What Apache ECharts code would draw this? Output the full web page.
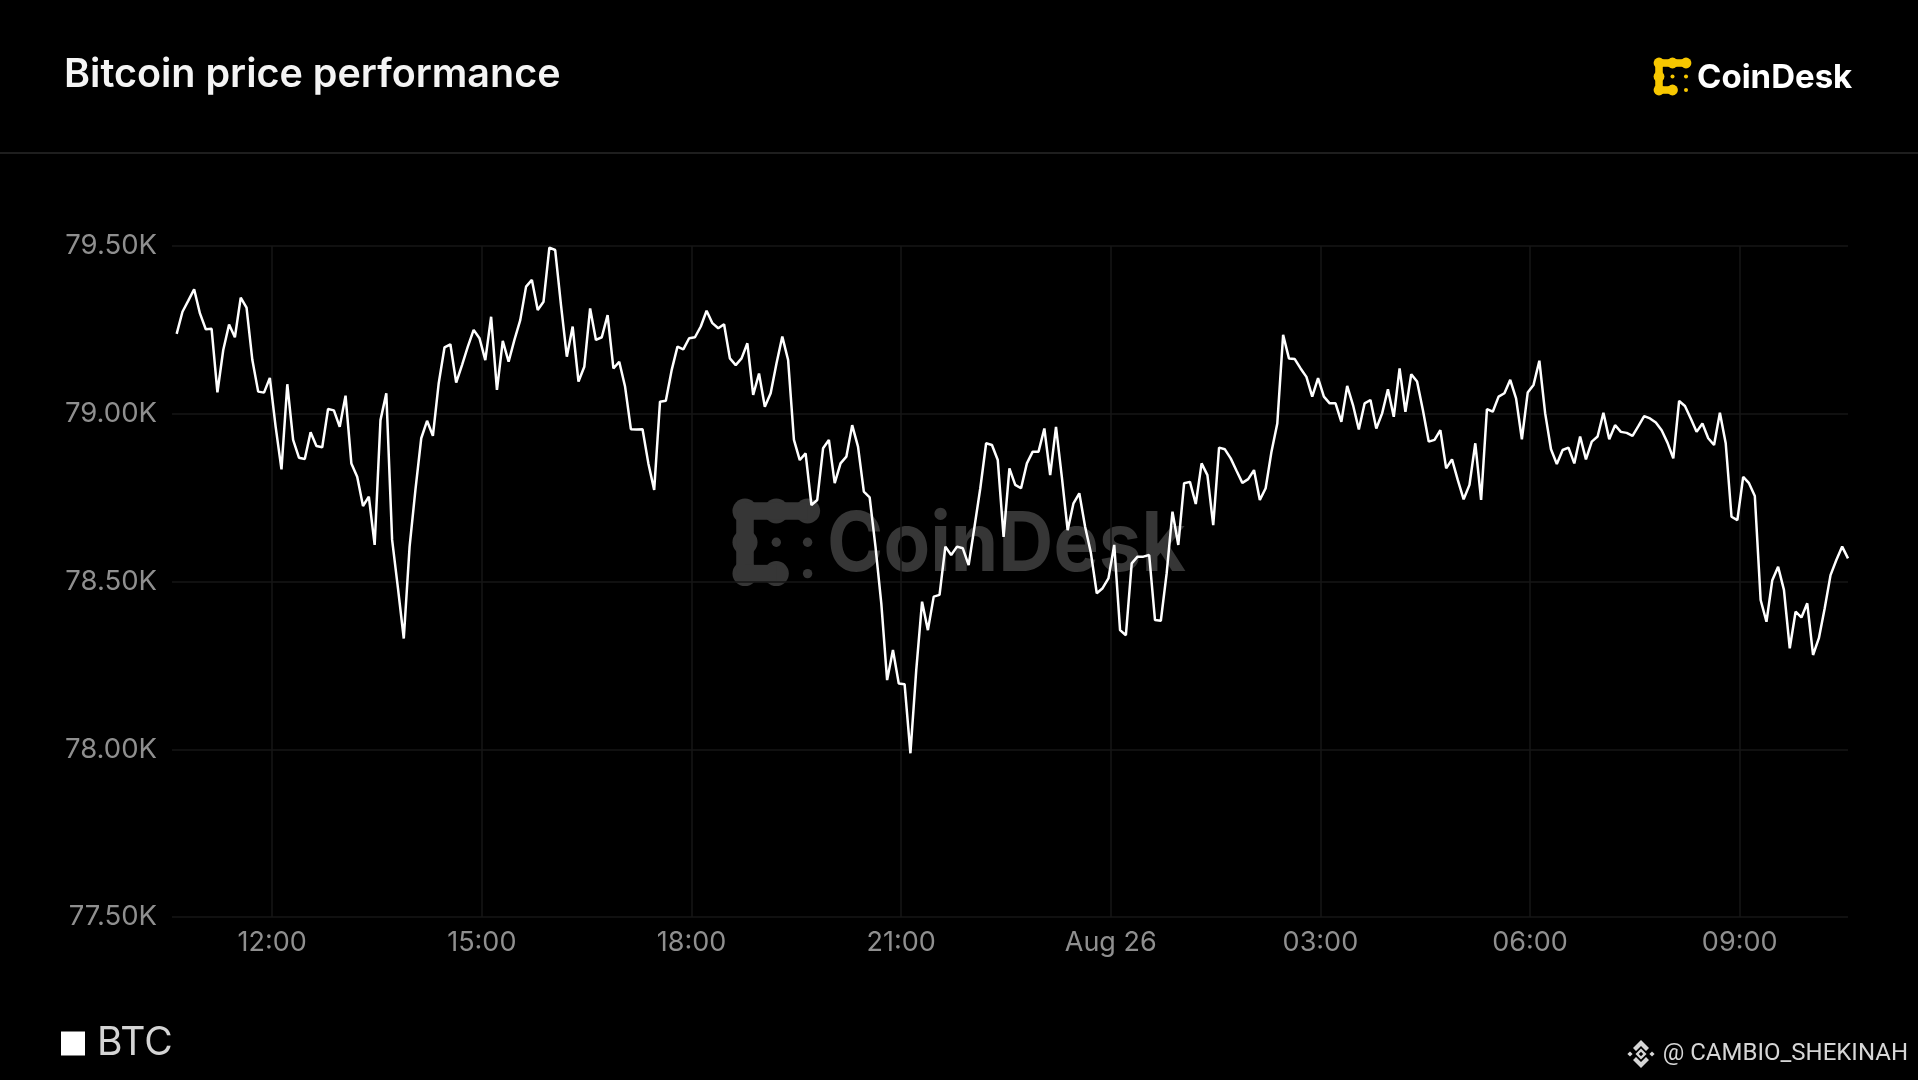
<!DOCTYPE html>
<html>
<head>
<meta charset="utf-8">
<script src="https://cdn.jsdelivr.net/npm/echarts@6/dist/echarts.min.js"></script>
<style>
  html, body { margin: 0; padding: 0; background: #000; }
  #chart { width: 1918px; height: 1080px; }
</style>
</head>
<body>
<div id="chart"></div>
<script>
// ---- Data (BTC price, 5-minute samples, Aug 25 10:38 -> Aug 26 10:33) ----
var seriesName = 'BTC';
var startTime = [2024, 7, 25, 10, 38];   // year, month(0-based), day, hour, minute
var stepMinutes = 5;
var btcPart1 = [
  79238, 79304, 79337, 79371, 79299, 79252, 79253, 79064, 79190, 79266,
  79228, 79346, 79316, 79160, 79066, 79063, 79107, 78961, 78834, 79088,
  78922, 78869, 78865, 78945, 78904, 78900, 79014, 79010, 78961, 79054,
  78852, 78812, 78725, 78753, 78609, 78981, 79061, 78624, 78480, 78330,
  78604, 78773, 78927, 78979, 78934, 79091, 79198, 79207, 79093, 79145,
  79200, 79250, 79225, 79160, 79289, 79071, 79217, 79155
];
var btcPart2 = [
  79220, 79279, 79379, 79399, 79309, 79334, 79495, 79488, 79324, 79170,
  79260, 79096, 79140, 79314, 79220, 79228, 79294, 79135, 79155, 79081,
  78954, 78953, 78954, 78852, 78773, 79036, 79039, 79130, 79200, 79192,
  79225, 79228, 79260, 79307, 79270, 79255, 79267, 79165, 79145, 79165,
  79210, 79056, 79120, 79021, 79061, 79150, 79230, 79160, 78922, 78862,
  78882, 78728, 78743, 78897, 78922, 78793, 78852
];
var btcPart3 = [
  78872, 78966, 78902, 78768, 78751, 78604, 78435, 78206, 78296, 78196,
  78194, 77988, 78236, 78440, 78355, 78455, 78460, 78604, 78579, 78604,
  78599, 78549, 78663, 78778, 78912, 78907, 78862, 78633, 78837, 78788,
  78778, 78852, 78887, 78887, 78956, 78817, 78961, 78812, 78653, 78733,
  78763, 78663, 78584, 78465, 78480, 78509, 78609, 78355, 78340, 78554,
  78574, 78574, 78579, 78385, 78383, 78524, 78708
];
var btcPart4 = [
  78609, 78793, 78797, 78731, 78852, 78817, 78668, 78899, 78894, 78867,
  78830, 78794, 78805, 78832, 78743, 78778, 78887, 78971, 79235, 79165,
  79163, 79135, 79110, 79051, 79106, 79051, 79031, 79031, 78976, 79083,
  79026, 78953, 79031, 79041, 78956, 79001, 79073, 78991, 79135, 79006,
  79118, 79096, 79011, 78917, 78922, 78951, 78837, 78864, 78802, 78745,
  78788, 78912, 78743, 79014, 79006, 79051, 79061, 79101
];
var btcPart5 = [
  79046, 78924, 79063, 79086, 79158, 79001, 78894, 78850, 78892, 78899,
  78852, 78932, 78864, 78917, 78932, 79003, 78924, 78966, 78946, 78943,
  78934, 78963, 78993, 78986, 78974, 78951, 78914, 78867, 79038, 79023,
  78986, 78946, 78971, 78927, 78907, 79003, 78912, 78693, 78683, 78812,
  78793, 78755, 78445, 78380, 78504, 78544, 78475, 78301, 78410, 78393,
  78435, 78281, 78331, 78420, 78519, 78564, 78604, 78569
];
// x tick positions, in hours counted from Aug 25 00:00
var tickHours = [12, 15, 18, 21, 24, 27, 30, 33];
var yMin = 77500, yMax = 79500, yInterval = 500;
var titleText = 'Bitcoin price performance';
var brandText = 'CoinDesk';
var creditText = '@ CAMBIO_SHEKINAH';
var midnightLabel = 'Aug 26';

// ---- Build ----
var btcValues = btcPart1.concat(btcPart2, btcPart3, btcPart4, btcPart5);
var t0 = new Date(startTime[0], startTime[1], startTime[2], startTime[3], startTime[4]).getTime();
var stepMs = stepMinutes * 60 * 1000;
var seriesData = btcValues.map(function (v, i) { return [t0 + i * stepMs, v]; });
var xMin = t0 - 4 * 60 * 1000;
var xMax = t0 + (btcValues.length - 1) * stepMs;
var tickValues = tickHours.map(function (h) {
  return new Date(startTime[0], startTime[1], startTime[2], h, 0).getTime();
});

function pad(n) { return (n < 10 ? '0' : '') + n; }

function coinIcon(x0, y0, s, color) {
  var els = [];
  var R = 0.4 * s, w = 0.56 * s, r = 0.15 * s;
  var big = [[0,0],[1,0],[2,0],[0,1],[0,2],[1,2]];
  big.forEach(function (p) {
    els.push({ type: 'circle', shape: { cx: x0 + p[0]*s, cy: y0 + p[1]*s, r: R }, style: { fill: color } });
  });
  els.push({ type: 'rect', shape: { x: x0, y: y0 - w/2, width: 2*s, height: w }, style: { fill: color } });
  els.push({ type: 'rect', shape: { x: x0 - w/2, y: y0, width: w, height: 2*s }, style: { fill: color } });
  els.push({ type: 'rect', shape: { x: x0, y: y0 + 2*s - w/2, width: s, height: w }, style: { fill: color } });
  [[1,1],[2,1],[2,2]].forEach(function (p) {
    els.push({ type: 'circle', shape: { cx: x0 + p[0]*s, cy: y0 + p[1]*s, r: r }, style: { fill: color } });
  });
  return els;
}

function diamond(cx, cy, r, fill) {
  return { type: 'polygon', shape: { points: [[cx, cy - r], [cx + r, cy], [cx, cy + r], [cx - r, cy]] }, style: { fill: fill } };
}

var bx = 1641, by = 1054, bcol = '#d6d6d6';
var binanceIcon = [
  diamond(bx - 11, by, 2.6, bcol),
  diamond(bx + 11, by, 2.6, bcol),
  diamond(bx, by, 5.5, bcol),
  diamond(bx, by, 2.2, '#000'),
  { type: 'polygon', shape: { points: [[bx, by - 14], [bx + 8, by - 6], [bx + 5, by - 3], [bx, by - 8], [bx - 5, by - 3], [bx - 8, by - 6]] }, style: { fill: bcol } },
  { type: 'polygon', shape: { points: [[bx, by + 14], [bx + 8, by + 6], [bx + 5, by + 3], [bx, by + 8], [bx - 5, by + 3], [bx - 8, by + 6]] }, style: { fill: bcol } }
];

var graphics = []
  .concat(coinIcon(745, 511, 31.3, '#363636'))
  .concat([
    { type: 'text', x: 827, y: 546, scaleX: 0.93, style: { text: brandText, fill: '#363636', font: 'bold 82px Inter', verticalAlign: 'middle', align: 'left' } },
    { type: 'rect', shape: { x: 0, y: 152, width: 1918, height: 2 }, style: { fill: '#1e1e1e' } },
    { type: 'text', x: 64, y: 75, style: { text: titleText, fill: '#f4f4f4', font: '600 39.5px Inter', verticalAlign: 'middle', align: 'left' } },
    { type: 'text', x: 1697, y: 78, style: { text: brandText, fill: '#ffffff', font: 'bold 33px Inter', verticalAlign: 'middle', align: 'left' } },
    { type: 'text', x: 1908, y: 1054, style: { text: creditText, fill: '#d6d6d6', font: '24px Roboto', verticalAlign: 'middle', align: 'right' } }
  ])
  .concat(coinIcon(1659, 63, 13.5, '#F7C700'))
  .concat(binanceIcon);

var chart = echarts.init(document.getElementById('chart'), null, { renderer: 'canvas' });
chart.setOption({
  backgroundColor: '#000000',
  animation: false,
  grid: { left: 172, right: 70, top: 246, bottom: 163, containLabel: false },
  legend: {
    data: [seriesName],
    left: 61, top: 1024, padding: 0,
    icon: 'rect', itemWidth: 24, itemHeight: 24,
    textStyle: { color: '#d4d4d4', fontSize: 39, fontFamily: 'Inter', padding: [0, 0, 0, 7] }
  },
  xAxis: {
    type: 'value',
    min: xMin, max: xMax,
    axisLine: { show: false },
    axisTick: { show: false, customValues: tickValues },
    splitLine: { show: true, lineStyle: { color: '#161616', width: 1.5 } },
    axisLabel: {
      customValues: tickValues,
      color: '#8f8f8f', fontSize: 27, fontFamily: 'Inter', margin: 12,
      formatter: function (val) {
        var d = new Date(val);
        if (d.getHours() === 0 && d.getMinutes() === 0) return midnightLabel;
        return pad(d.getHours()) + ':' + pad(d.getMinutes());
      }
    }
  },
  yAxis: {
    type: 'value',
    min: yMin, max: yMax, interval: yInterval,
    axisLine: { show: false }, axisTick: { show: false },
    splitLine: { show: true, lineStyle: { color: '#161616', width: 1.5 } },
    axisLabel: {
      color: '#8f8f8f', fontSize: 27.5, fontFamily: 'Inter', margin: 15,
      formatter: function (v) { return (v / 1000).toFixed(2) + 'K'; }
    }
  },
  series: [{
    name: seriesName,
    type: 'line',
    data: seriesData,
    showSymbol: false,
    symbol: 'none',
    color: '#ffffff',
    lineStyle: { color: '#ffffff', width: 2.5 },
    z: 5
  }],
  graphic: graphics
});
</script>
</body>
</html>
